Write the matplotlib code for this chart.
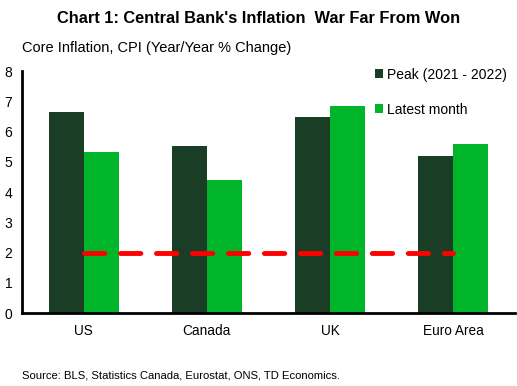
import numpy as np
import matplotlib.pyplot as plt

plt.rcParams['font.family'] = ['Liberation Sans', 'DejaVu Sans']

regions = ['US', 'Canada', 'UK', 'Euro Area']
peak = [6.63, 5.52, 6.48, 5.19]
latest = [5.32, 4.40, 6.84, 5.59]
target = [2, 2, 2, 2]

dark_green = '#1a3d25'
bright_green = '#00b52a'

fig = plt.figure(figsize=(5.17, 3.86), dpi=100)
ax = fig.add_axes([0.0426, 0.189, 0.9535, 0.627])

x = np.arange(len(regions))
w = 0.285
ax.bar(x - w/2, peak, width=w, color=dark_green, label='Peak (2021 - 2022)')
ax.bar(x + w/2, latest, width=w, color=bright_green, label='Latest month')
ax.plot(x, target, color='#ff0000', lw=3.5, dashes=(4.2, 3.2), solid_capstyle='round', dash_capstyle='round')

ax.set_xlim(-0.5, 3.5)
ax.set_ylim(0, 8)
ax.set_yticks(range(0, 9))
ax.set_xticks(x)
ax.set_xticklabels(regions, fontsize=9.8)
ax.tick_params(axis='x', length=0, pad=8)
ax.tick_params(axis='y', length=0, pad=7, labelsize=10)
for s in ['top', 'right']:
    ax.spines[s].set_visible(False)
ax.spines['left'].set_linewidth(2)
ax.spines['bottom'].set_linewidth(2)

ax.legend(loc='upper left', bbox_to_anchor=(0.69, 1.065), frameon=False, fontsize=10,
          handlelength=0.6, handleheight=0.6, handletextpad=0.3, labelspacing=1.5)

fig.text(0.5, 0.953, "Chart 1: Central Bank's Inflation  War Far From Won", ha='center', va='center',
         fontsize=11.8, fontweight='bold')
fig.text(0.042, 0.875, 'Core Inflation, CPI (Year/Year % Change)', ha='left', va='center', fontsize=10.5)
fig.text(0.042, 0.026, 'Source: BLS, Statistics Canada, Eurostat, ONS, TD Economics.', ha='left', va='center',
         fontsize=8.1)

fig.savefig('out.png', dpi=100)
